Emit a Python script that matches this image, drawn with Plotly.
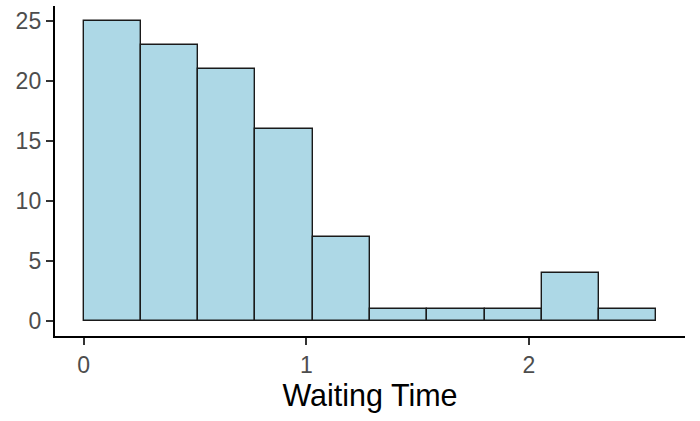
import plotly.graph_objects as go

# Histogram data
bin_start = 0.0
bin_width = 0.2572
counts = [25, 23, 21, 16, 7, 1, 1, 1, 4, 1]
x_ticks = [0, 1, 2]
y_ticks = [0, 5, 10, 15, 20, 25]
x_title = "Waiting Time"

centers = [bin_start + bin_width * (i + 0.5) for i in range(len(counts))]
x_max = bin_start + bin_width * len(counts)
x_pad = 0.05 * (x_max - bin_start)
y_pad = 0.05 * max(counts)

fig = go.Figure(
    go.Bar(
        x=centers,
        y=counts,
        width=[bin_width] * len(counts),
        marker=dict(color="#ADD8E6", line=dict(color="#1a1a1a", width=1.4)),
        hoverinfo="x+y",
    )
)

font_family = "Liberation Sans, Arial, sans-serif"

fig.update_layout(
    width=700,
    height=421,
    margin=dict(l=55, r=15, t=6, b=85),
    paper_bgcolor="white",
    plot_bgcolor="white",
    showlegend=False,
    bargap=0,
    font=dict(family=font_family),
)

fig.update_xaxes(
    range=[bin_start - x_pad, x_max + x_pad],
    tickvals=x_ticks,
    ticktext=[str(v) for v in x_ticks],
    showgrid=False,
    zeroline=False,
    showline=True,
    linecolor="black",
    linewidth=2.4,
    ticks="outside",
    ticklen=7,
    tickwidth=2,
    tickcolor="#333333",
    automargin=False,
    tickfont=dict(size=23, color="#4D4D4D", family=font_family),
    title=dict(text=x_title, font=dict(size=30.5, color="black", family=font_family), standoff=8),
)

fig.update_yaxes(
    range=[-y_pad, max(counts) + y_pad],
    tickvals=y_ticks,
    ticktext=[str(v) for v in y_ticks],
    showgrid=False,
    zeroline=False,
    showline=True,
    linecolor="black",
    linewidth=2.4,
    ticks="outside",
    ticklen=7,
    tickwidth=2,
    tickcolor="#333333",
    automargin=False,
    tickfont=dict(size=23, color="#4D4D4D", family=font_family),
)

fig.write_html(
    "out.html",
    config={"displayModeBar": False},
    post_script="document.body.style.margin='0';document.body.style.overflow='hidden';",
)
